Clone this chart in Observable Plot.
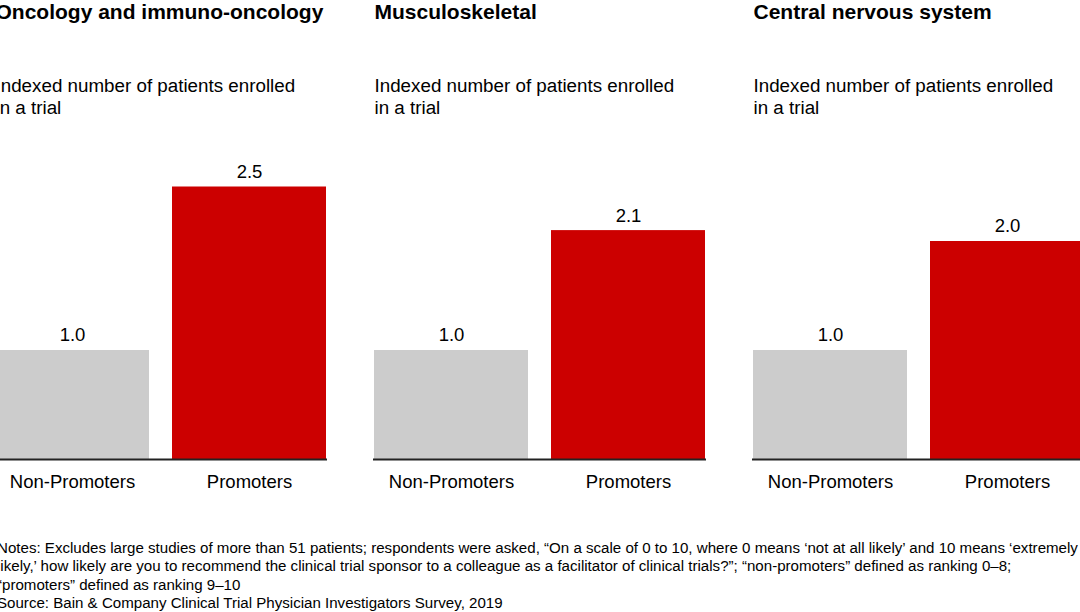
<!DOCTYPE html>
<html>
<head>
<meta charset="utf-8">
<script src="https://cdn.jsdelivr.net/npm/d3@7"></script>
<script src="https://cdn.jsdelivr.net/npm/@observablehq/plot@0.6"></script>
<style>
  html, body { margin: 0; padding: 0; background: #fff; overflow: hidden; width: 1080px; height: 612px; }
  #chart { width: 1080px; height: 510px; overflow: visible; }
  #chart svg { display: block; margin-left: -6px; max-width: none !important; width: 1091px; height: 510px; }
  #notes { font-family: "Liberation Sans", Arial, sans-serif; font-size: 15.1px; line-height: 18.4px; color: #000; margin-left: -3px; margin-top: 29px; white-space: nowrap; }
</style>
</head>
<body>
<div id="chart"></div>
<div id="notes">
  <div>Notes: Excludes large studies of more than 51 patients; respondents were asked, “On a scale of 0 to 10, where 0 means ‘not at all likely’ and 10 means ‘extremely</div>
  <div>likely,’ how likely are you to recommend the clinical trial sponsor to a colleague as a facilitator of clinical trials?”; “non-promoters” defined as ranking 0–8;</div>
  <div>“promoters” defined as ranking 9–10</div>
  <div>Source: Bain &amp; Company Clinical Trial Physician Investigators Survey, 2019</div>
</div>
<script>
const panels = ["Oncology and immuno-oncology", "Musculoskeletal", "Central nervous system"];
const groups = ["Non-Promoters", "Promoters"];
const nonPromoters = [1.0, 1.0, 1.0];
const promoters = [2.5, 2.1, 2.0];
const subtitle = "Indexed number of patients enrolled\nin a trial";

const data = [];
panels.forEach((p, i) => {
  data.push({panel: p, group: groups[0], value: nonPromoters[i]});
  data.push({panel: p, group: groups[1], value: promoters[i]});
});

const chart = Plot.plot({
  width: 1091,
  height: 510,
  marginLeft: 0,
  marginRight: 0,
  marginTop: 0,
  marginBottom: 51,
  style: {fontFamily: "'Liberation Sans', Arial, sans-serif", color: "#000", background: "#fff", maxWidth: "none"},
  fx: {domain: panels, paddingInner: 46 / 379, paddingOuter: 0, axis: null},
  x: {domain: groups, paddingInner: 0.129, paddingOuter: 0, axis: null},
  y: {domain: [0, 459 / 109], axis: null},
  color: {domain: groups, range: ["#cccccc", "#cc0000"]},
  marks: [
    Plot.barY(data, {fx: "panel", x: "group", y: "value", fill: "group"}),
    Plot.ruleY([0], {stroke: "#222", strokeWidth: 2}),
    Plot.text(data, {fx: "panel", x: "group", y: "value", text: d => d.value.toFixed(1), dy: -15, fontSize: 18.5, fill: "#000"}),
    Plot.text(data, {fx: "panel", x: "group", text: "group", frameAnchor: "bottom", dy: 28, fontSize: 18.5, fill: "#000"}),
    Plot.text(panels, {fx: d => d, text: d => d, frameAnchor: "top-left", textAnchor: "start", lineAnchor: "middle", dy: 12, dx: 1, fontSize: 21, fontWeight: "bold", fill: "#000"}),
    Plot.text(panels, {fx: d => d, text: () => subtitle, frameAnchor: "top-left", textAnchor: "start", lineAnchor: "middle", dy: 95, dx: 1, fontSize: 18.8, lineHeight: 22 / 18.8, fill: "#000"})
  ]
});
document.getElementById("chart").appendChild(chart);
</script>
</body>
</html>
